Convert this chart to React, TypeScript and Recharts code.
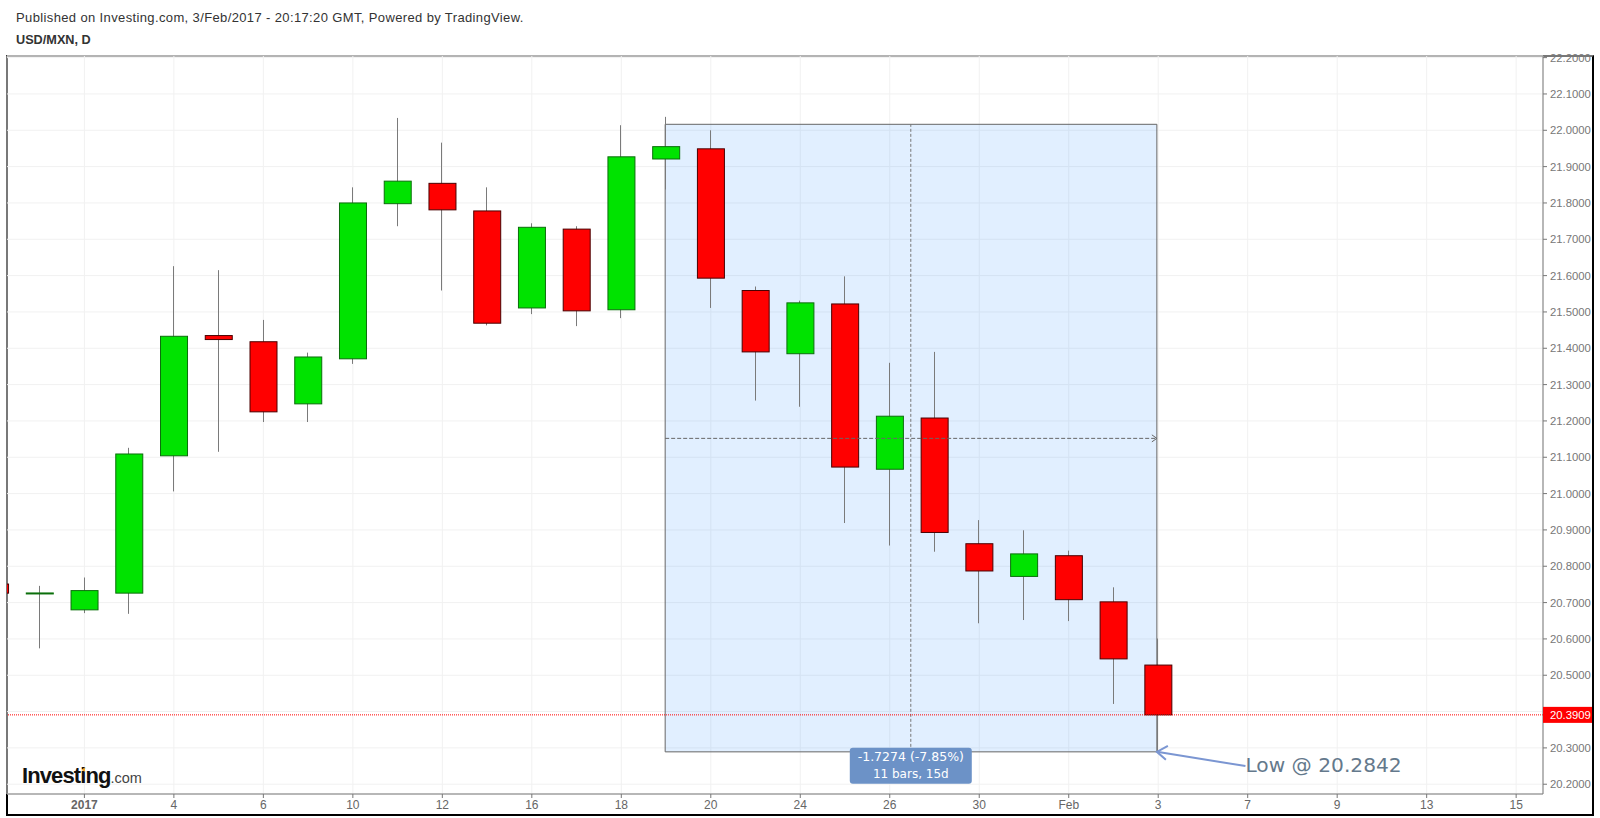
import React from "react";
import {
  ComposedChart, Bar, XAxis, YAxis, CartesianGrid, ReferenceArea, ReferenceLine, ReferenceDot,
} from "recharts";

const barIndexes = [-2, -1, 0, 1, 2, 3, 4, 5, 6, 7, 8, 9, 10, 11, 12, 13, 14, 15, 16, 17, 18, 19, 20, 21, 22, 23, 24];
const opens = [20.751, 20.7255, 20.68, 20.726, 21.104, 21.435, 21.418, 21.247, 21.371, 21.798, 21.854, 21.778, 21.511, 21.728, 21.506, 21.921, 21.949, 21.559, 21.385, 21.522, 21.067, 21.208, 20.862, 20.772, 20.829, 20.702, 20.528];
const closes = [20.726, 20.7265, 20.733, 21.109, 21.433, 21.424, 21.225, 21.376, 21.8, 21.86, 21.781, 21.469, 21.733, 21.503, 21.927, 21.955, 21.593, 21.39, 21.525, 21.073, 21.213, 20.893, 20.787, 20.834, 20.708, 20.545, 20.3909];
const highs = [20.751, 20.746, 20.769, 21.126, 21.626, 21.615, 21.478, 21.388, 21.843, 22.034, 21.966, 21.843, 21.744, 21.736, 22.014, 22.037, 22.0, 21.57, 21.531, 21.598, 21.36, 21.39, 20.927, 20.899, 20.843, 20.742, 20.601];
const lows = [20.726, 20.574, 20.671, 20.669, 21.006, 21.115, 21.197, 21.197, 21.357, 21.736, 21.559, 21.463, 21.494, 21.461, 21.483, 21.837, 21.511, 21.256, 21.239, 20.919, 20.857, 20.84, 20.643, 20.652, 20.649, 20.421, 20.289];

const xTicks = [0, 2, 4, 6, 8, 10, 12, 14, 16, 18, 20, 22, 24, 26, 28, 30, 32];
const xLabels = ["2017", "4", "6", "10", "12", "16", "18", "20", "24", "26", "30", "Feb", "3", "7", "9", "13", "15"];
const yTicks = [20.2, 20.3, 20.4, 20.5, 20.6, 20.7, 20.8, 20.9, 21.0, 21.1, 21.2, 21.3, 21.4, 21.5, 21.6, 21.7, 21.8, 21.9, 22.0, 22.1, 22.2];
const yTickCoveredByPriceTag = 20.4;

const lastPrice = 20.3909;
const measureFromBar = 12.98;
const measureToBar = 23.97;
const measureMidBar = 18.47;
const measureHigh = 22.0165;
const measureLow = 20.2891;
const measureMid = 21.152;
const noteBar = 25.95;
const notePrice = 20.25;
const xMin = -1.73;
const xMax = 32.6;
const yMin = 20.1731;
const yMax = 22.2045;

const rows = barIndexes.map((idx, i) => ({
  idx,
  open: opens[i],
  close: closes[i],
  high: highs[i],
  low: lows[i],
  range: [lows[i], highs[i]],
}));

const UP = "#00e300";
const DOWN = "#ff0000";
const FONT = "'Liberation Sans', Arial, sans-serif";

function Candle(props: any) {
  const { x, y, width, height, payload } = props;
  const { open, close, high, low } = payload;
  const perUnit = height / (high - low);
  const yOf = (p: number) => y + (high - p) * perUnit;
  const top = yOf(Math.max(open, close));
  const bottom = yOf(Math.min(open, close));
  const cx = Math.round(x + width / 2) - 0.5;
  const up = close >= open;
  return (
    <g>
      {high > low && <line x1={cx} x2={cx} y1={y} y2={y + height} stroke="#7a7a7a" strokeWidth={1} />}
      <rect
        x={x}
        y={top}
        width={width}
        height={Math.max(bottom - top, 1)}
        fill={up ? UP : DOWN}
        stroke={up ? "#0b6e0b" : "#4a0000"}
        strokeWidth={1}
      />
    </g>
  );
}

function xTickFormat(v: number) {
  const i = xTicks.indexOf(v);
  return i >= 0 ? xLabels[i] : "";
}

function XTick(props: any) {
  const { x, y, payload } = props;
  const label = xTickFormat(payload.value);
  return (
    <text
      x={x}
      y={y + 9}
      textAnchor="middle"
      fontFamily={FONT}
      fontSize={12}
      fontWeight={label === "2017" ? 700 : 400}
      fill="#666"
    >
      {label}
    </text>
  );
}

function yTickFormat(v: number) {
  return Math.abs(v - yTickCoveredByPriceTag) < 1e-6 ? "" : v.toFixed(4);
}

export default function App() {
  return (
    <div style={{ position: "absolute", left: 0, top: 0, width: 1600, height: 818, background: "#fff", overflow: "hidden" }}>
      <div style={{ position: "absolute", left: 16, top: 10, fontFamily: FONT, fontSize: 13, letterSpacing: 0.37, color: "#333", whiteSpace: "nowrap" }}>
        Published on Investing.com, 3/Feb/2017 - 20:17:20 GMT, Powered by TradingView.
      </div>
      <div style={{ position: "absolute", left: 16, top: 33, fontFamily: FONT, fontSize: 12.7, fontWeight: 700, color: "#333", whiteSpace: "nowrap" }}>
        USD/MXN, D
      </div>
      <div style={{ position: "absolute", left: 6, top: 55, width: 1588, height: 761, borderLeft: "2px solid #000", borderRight: "2px solid #000", borderBottom: "2px solid #000", borderTop: "2px solid #777", boxSizing: "border-box" }} />
      <div style={{ position: "absolute", left: 0, top: 0 }}>
        <ComposedChart
          width={1600}
          height={818}
          data={rows}
          margin={{ left: 7, right: 7, top: 56, bottom: 0 }}
        >
          <CartesianGrid stroke="#f1f1f1" strokeWidth={1} />
          <XAxis
            dataKey="idx"
            type="number"
            domain={[xMin, xMax]}
            allowDataOverflow
            ticks={xTicks}
            tick={<XTick />}
            tickSize={4}
            height={24}
            stroke="#777"
            interval={0}
          />
          <YAxis
            orientation="right"
            type="number"
            domain={[yMin, yMax]}
            allowDataOverflow
            ticks={yTicks}
            tickFormatter={yTickFormat}
            tick={{ fontFamily: FONT, fontSize: 11.3, fill: "#777" }}
            tickSize={4}
            tickMargin={3}
            width={50}
            stroke="#777"
            interval={0}
          />
          <ReferenceArea
            x1={measureFromBar}
            x2={measureToBar}
            y1={measureLow}
            y2={measureHigh}
            fill="#2b8bff"
            fillOpacity={0.14}
            stroke="#666"
            strokeWidth={1}
          />
          <ReferenceLine
            segment={[{ x: measureMidBar, y: measureLow }, { x: measureMidBar, y: measureHigh }]}
            stroke="#777"
            strokeDasharray="3 2"
          />
          <ReferenceLine
            segment={[{ x: measureFromBar, y: measureMid }, { x: measureToBar, y: measureMid }]}
            stroke="#666"
            strokeDasharray="4 2"
          />
          <ReferenceLine y={lastPrice} stroke="#ff0000" strokeDasharray="1 1" />
          <Bar dataKey="range" barSize={27} shape={<Candle />} isAnimationActive={false} />
          <ReferenceDot
            x={measureToBar}
            y={measureMid}
            r={0}
            shape={(p: any) => (
              <polyline points={`${p.cx - 5},${p.cy - 3.5} ${p.cx},${p.cy} ${p.cx - 5},${p.cy + 3.5}`} fill="none" stroke="#666" strokeWidth={1} />
            )}
          />
          <ReferenceLine
            segment={[{ x: measureToBar, y: measureLow }, { x: noteBar, y: notePrice }]}
            stroke="#7b96d2"
            strokeWidth={2}
          />
          <ReferenceDot
            x={measureToBar}
            y={measureLow}
            r={0}
            shape={(p: any) => (
              <polyline points={`${p.cx + 11},${p.cy - 6} ${p.cx},${p.cy} ${p.cx + 9},${p.cy + 8}`} fill="none" stroke="#7b96d2" strokeWidth={2} />
            )}
          />
          <ReferenceDot
            x={noteBar}
            y={notePrice}
            r={0}
            shape={(p: any) => (
              <text x={p.cx} y={p.cy + 6} fontFamily="'DejaVu Sans', sans-serif" fontSize={20.2} fill="#64798c">
                Low @ 20.2842
              </text>
            )}
          />
          <ReferenceDot
            x={measureMidBar}
            y={measureLow}
            r={0}
            shape={(p: any) => (
              <g>
                <rect x={p.cx - 61} y={p.cy - 4} width={122} height={36} rx={3} fill="#6c92c7" />
                <text x={p.cx} y={p.cy + 9} textAnchor="middle" fontFamily="'DejaVu Sans', sans-serif" fontSize={12.5} fill="#fff">
                  -1.7274 (-7.85%)
                </text>
                <text x={p.cx} y={p.cy + 26} textAnchor="middle" fontFamily="'DejaVu Sans', sans-serif" fontSize={12} fill="#fff">
                  11 bars, 15d
                </text>
              </g>
            )}
          />
          <ReferenceDot
            x={xMax}
            y={lastPrice}
            r={0}
            shape={(p: any) => (
              <g>
                <rect x={p.cx} y={p.cy - 8} width={49} height={16} fill="#ff0000" />
                <text x={p.cx + 7} y={p.cy + 4} fontFamily={FONT} fontSize={11.3} fill="#fff">
                  {lastPrice.toFixed(4)}
                </text>
              </g>
            )}
          />
        </ComposedChart>
      </div>
      <div style={{ position: "absolute", left: 22, top: 763, fontFamily: FONT, fontSize: 22, fontWeight: 700, letterSpacing: -0.9, color: "#111", whiteSpace: "nowrap", lineHeight: "26px" }}>
        Investing<span style={{ fontSize: 14.5, fontWeight: 400, letterSpacing: 0, color: "#444" }}>.com</span>
      </div>
      <div style={{ position: "absolute", left: 82, top: 767, width: 0, height: 0, borderLeft: "2px solid transparent", borderRight: "2px solid transparent", borderBottom: "4px solid #f5a623", transform: "rotate(25deg)" }} />
    </div>
  );
}
